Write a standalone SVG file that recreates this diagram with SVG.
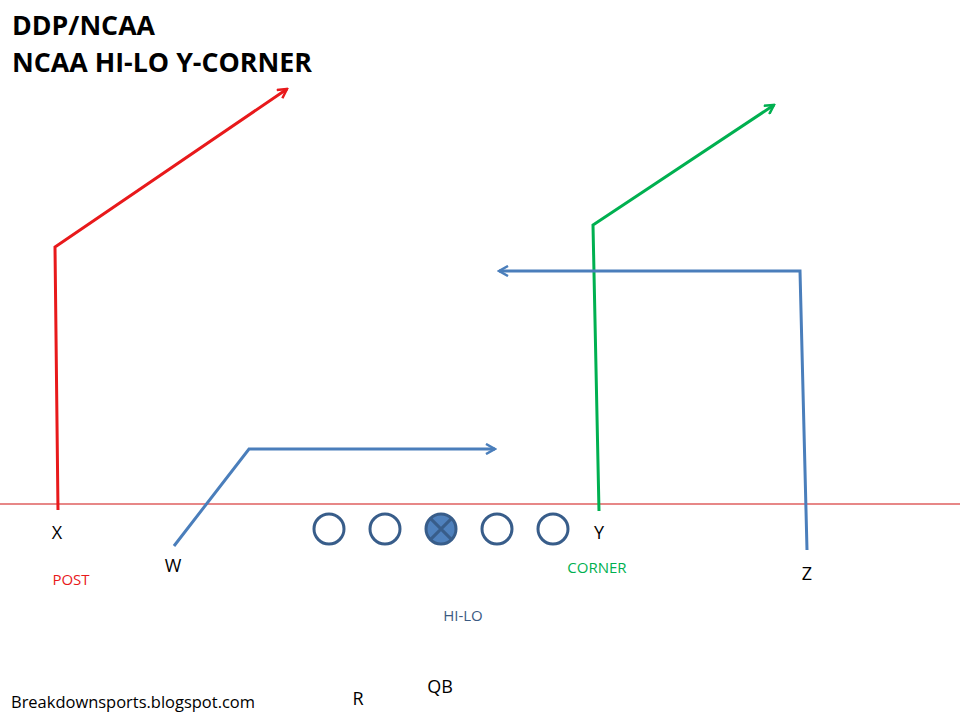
<svg xmlns="http://www.w3.org/2000/svg" width="960" height="720" viewBox="0 0 960 720">
<defs>
<style>
.t{font-family:"Open Sans","Liberation Sans",sans-serif;fill:#000}
.title{font-family:"Open Sans","Liberation Sans",sans-serif;font-weight:bold;font-size:26px;fill:#000}
.route{fill:none;stroke-width:3;stroke-linejoin:miter}
.ol{fill:#fff;stroke:#385d8a;stroke-width:3}
</style>
<marker id="aR" viewBox="0 0 12 12" refX="10" refY="6" markerWidth="12" markerHeight="12" markerUnits="userSpaceOnUse" orient="auto"><path d="M1,1 L10,6 L1,11" fill="none" stroke="#e8191b" stroke-width="2.5"/></marker>
<marker id="aG" viewBox="0 0 12 12" refX="10" refY="6" markerWidth="12" markerHeight="12" markerUnits="userSpaceOnUse" orient="auto"><path d="M1,1 L10,6 L1,11" fill="none" stroke="#00b050" stroke-width="2.5"/></marker>
<marker id="aB" viewBox="0 0 12 12" refX="10" refY="6" markerWidth="12" markerHeight="12" markerUnits="userSpaceOnUse" orient="auto"><path d="M1,1 L10,6 L1,11" fill="none" stroke="#4a7ebb" stroke-width="2.5"/></marker>
</defs>
<rect width="960" height="720" fill="#fff"/>
<text class="title" x="12" y="35" textLength="143" lengthAdjust="spacingAndGlyphs">DDP/NCAA</text>
<text class="title" x="12" y="72" textLength="300" lengthAdjust="spacingAndGlyphs">NCAA HI-LO Y-CORNER</text>
<line x1="0" y1="504" x2="960" y2="504" stroke="#d01010" stroke-width="1.2"/>
<g id="connectors">
<polyline class="route" stroke="#e8191b" points="58,510 55,247 287,89" marker-end="url(#aR)"/>
<polyline class="route" stroke="#4a7ebb" points="174,546 249,449 495,449" marker-end="url(#aB)"/>
<polyline class="route" stroke="#00b050" points="599,511 593,225 774,105" marker-end="url(#aG)"/>
<polyline class="route" stroke="#4a7ebb" points="807,550 800,271 499,271" marker-end="url(#aB)"/>
</g>
<g id="line">
<circle class="ol" cx="329" cy="529" r="15"/>
<circle class="ol" cx="385" cy="529" r="15"/>
<g id="center"><circle cx="441" cy="529" r="15" fill="#4f81bd" stroke="#385d8a" stroke-width="3"/>
<path d="M430.4,518.4 L451.6,539.6 M451.6,518.4 L430.4,539.6" stroke="#385d8a" stroke-width="3"/></g>
<circle class="ol" cx="497" cy="529" r="15"/>
<circle class="ol" cx="553" cy="529" r="15"/>
</g>
<g id="X"><text class="t" x="57" y="539" font-size="18" text-anchor="middle">X</text></g>
<g id="W"><text class="t" x="173" y="572" font-size="18" text-anchor="middle">W</text></g>
<g id="Y"><text class="t" x="599" y="539" font-size="18" text-anchor="middle">Y</text></g>
<g id="Z"><text class="t" x="807" y="580" font-size="18" text-anchor="middle">Z</text></g>
<text class="t" x="71" y="585" font-size="15" text-anchor="middle" style="fill:#e8191b">POST</text>
<text class="t" x="597" y="573" font-size="15" text-anchor="middle" style="fill:#00b050">CORNER</text>
<text class="t" x="463" y="621" font-size="15" text-anchor="middle" style="fill:#3b5a82">HI-LO</text>
<g id="QB"><text class="t" x="440" y="693" font-size="18" text-anchor="middle">QB</text></g>
<g id="R"><text class="t" x="358" y="705" font-size="18" text-anchor="middle">R</text></g>
<text class="t" x="11" y="708" font-size="16" textLength="244" lengthAdjust="spacingAndGlyphs">Breakdownsports.blogspot.com</text>
</svg>
